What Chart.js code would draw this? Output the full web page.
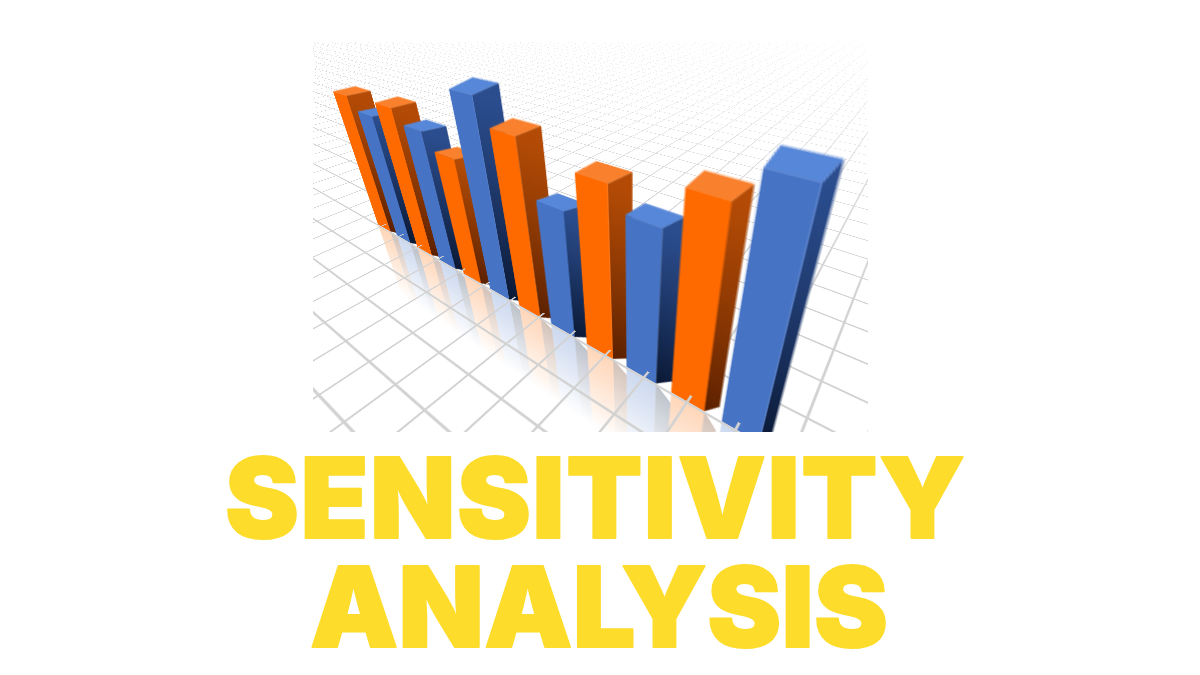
<!DOCTYPE html>
<html>
<head>
<meta charset="utf-8">
<script src="https://cdn.jsdelivr.net/npm/chart.js"></script>
<style>
  html, body { margin: 0; padding: 0; background: #fff; }
  body { width: 1200px; height: 675px; position: relative; overflow: hidden; }
  /* photo area with the 3d scene */
  #view {
    position: absolute; left: 313px; top: 42px; width: 555px; height: 390px;
    overflow: hidden; background: #fff;
    perspective: 442px; perspective-origin: 318px 165px;
  }
  #scene {
    position: absolute; left: 197px; top: 258px; width: 0; height: 0;
    transform-style: preserve-3d; transform-origin: 0 0;
    transform: rotateX(-30deg) rotateY(-35deg);
  }
  #floor {
    position: absolute; left: -1900px; top: -1900px; width: 2300px; height: 2120px;
    transform-origin: 1900px 1900px; transform: rotateX(90deg);
    background-image:
      linear-gradient(to right, #d2d2d2 0, #d2d2d2 2px, transparent 2px),
      linear-gradient(to bottom, #d2d2d2 0, #d2d2d2 2px, transparent 2px);
    background-size: 40px 40px;
    background-position: 1900px 1900px;
    -webkit-mask-image: linear-gradient(to bottom, rgba(0,0,0,0.08), rgba(0,0,0,0.5) 55%, #000 82%);
  }
  #barsBox {
    position: absolute; left: -254px; top: -280px; width: 560px; height: 280px;
    -webkit-box-reflect: below 0 linear-gradient(transparent 58%, rgba(255,255,255,0.28));
  }
  #title { position: absolute; left: 0; top: 0; pointer-events: none; }
</style>
</head>
<body>
<div id="view">
  <div id="scene">
    <div id="floor"></div>
    <div id="barsBox"><canvas id="bars" width="560" height="280"></canvas></div>
  </div>
</div>
<svg id="title" width="1200" height="675">
  <g font-family="Inter, Roboto, 'Noto Sans', sans-serif" font-weight="900" font-size="111"
     fill="#fddc2b" stroke="#fddc2b" stroke-width="2" stroke-linejoin="round">
    <text x="225" y="538" textLength="740" lengthAdjust="spacing">SENSITIVITY</text>
    <text x="310" y="647" textLength="578" lengthAdjust="spacing">ANALYSIS</text>
  </g>
</svg>
<script>
// values (bars alternate orange / blue, back to front)
const categories = ['1', '2', '3', '4', '5', '6'];
const orangeValues = [71, 72, 59, 76, 70, 76];
const blueValues = [65, 66, 86, 55, 62, 86];
const yMax = 100;

const looks = {
  orange: { front: '#ff6a00', cap: '#f9802c', sideTop: '#b34b06', sideBottom: '#5a2000' },
  blue: { front: '#4673c4', cap: '#5787d8', sideTop: '#2b4d8e', sideBottom: '#0a1833' }
};

// draws every bar as a small box: dark side, top cap, then the front face
const boxBars = {
  id: 'boxBars',
  beforeDatasetsDraw(chart) {
    const ctx = chart.ctx;
    const area = chart.chartArea;
    let items = [];
    chart.data.datasets.forEach((ds, i) => {
      chart.getDatasetMeta(i).data.forEach(el => {
        items.push({ el: el, look: looks[ds.look] });
      });
    });
    // back bars first so the nearer ones cover them
    items.sort((a, b) => a.el.x - b.el.x);

    items.forEach(item => {
      const p = item.el.getProps(['x', 'y', 'base', 'width'], true);
      const left = p.x - p.width / 2;
      const right = p.x + p.width / 2;
      const t = (p.x - area.left) / area.width;
      const dx = p.width * (2.0 - 1.85 * t);
      const dy = 14;

      const g = ctx.createLinearGradient(0, p.y, 0, p.base);
      g.addColorStop(0, item.look.sideTop);
      g.addColorStop(1, item.look.sideBottom);
      ctx.fillStyle = g;
      ctx.beginPath();
      ctx.moveTo(right, p.y);
      ctx.lineTo(right + dx, p.y - dy);
      ctx.lineTo(right + dx, p.base - dy);
      ctx.lineTo(right, p.base);
      ctx.closePath();
      ctx.fill();

      ctx.fillStyle = item.look.cap;
      ctx.beginPath();
      ctx.moveTo(left, p.y);
      ctx.lineTo(right, p.y);
      ctx.lineTo(right + dx, p.y - dy);
      ctx.lineTo(left + dx, p.y - dy);
      ctx.closePath();
      ctx.fill();

      ctx.fillStyle = item.look.front;
      ctx.fillRect(left, p.y, p.width, p.base - p.y);
    });
    return false;
  }
};

new Chart(document.getElementById('bars').getContext('2d'), {
  type: 'bar',
  data: {
    labels: categories,
    datasets: [
      { label: 'Orange', look: 'orange', data: orangeValues, backgroundColor: looks.orange.front,
        categoryPercentage: 1, barPercentage: 0.67 },
      { label: 'Blue', look: 'blue', data: blueValues, backgroundColor: looks.blue.front,
        categoryPercentage: 1, barPercentage: 0.67 }
    ]
  },
  options: {
    responsive: false,
    animation: false,
    devicePixelRatio: 2,
    layout: { padding: { top: 40, right: 40, left: 0, bottom: 0 } },
    plugins: { legend: { display: false }, tooltip: { enabled: false } },
    scales: {
      x: { display: false },
      y: { display: false, min: 0, max: yMax }
    }
  },
  plugins: [boxBars]
});
</script>
</body>
</html>
